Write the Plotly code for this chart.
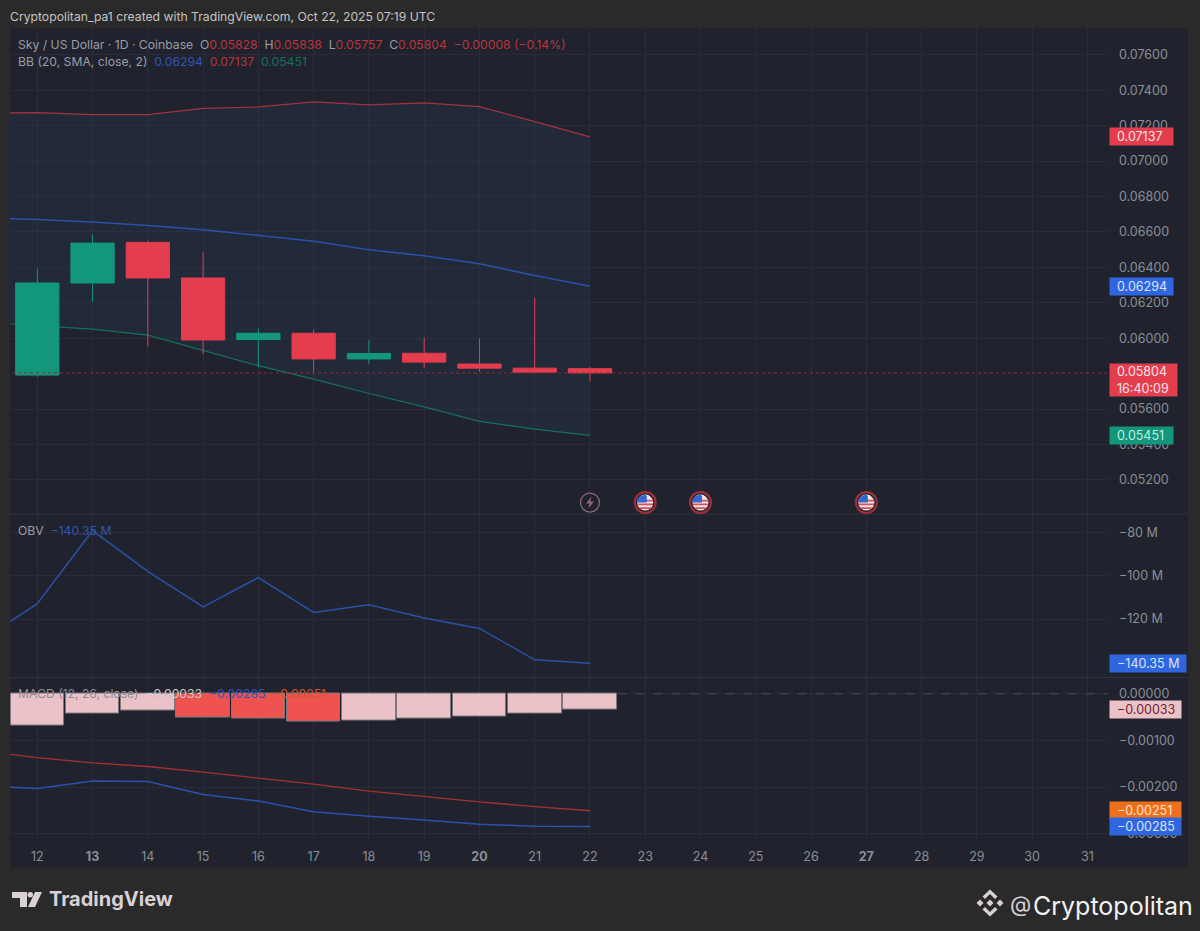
import math
import plotly.graph_objects as go

W, H = 1200, 931
PAGE = "#2a2a2a"
PANEL = "#20232d"
GRID = "#2a2d38"
TICK = "#8b8e96"
GREEN = "#13977c"
RED = "#e43d4e"
BLUE = "#2f66e0"
ORANGE = "#ee6f1a"
PINK = "#ecc2c9"
HIST_RED = "#ef5350"
FONT = "Inter, 'Liberation Sans', sans-serif"
ROW_SHIFT = 1

# Daily OHLC, October 2025
days = [12, 13, 14, 15, 16, 17, 18, 19, 20, 21, 22]
opens = [0.05792, 0.06312, 0.06541, 0.06340, 0.05993, 0.06028, 0.05883, 0.05915, 0.05854, 0.05831, 0.05828]
highs = [0.06393, 0.06586, 0.06552, 0.06486, 0.06055, 0.06049, 0.05989, 0.06004, 0.05998, 0.06229, 0.05838]
lows = [0.05782, 0.06205, 0.05951, 0.05910, 0.05835, 0.05805, 0.05852, 0.05833, 0.05810, 0.05801, 0.05757]
closes = [0.06312, 0.06537, 0.06340, 0.05990, 0.06028, 0.05883, 0.05914, 0.05865, 0.05831, 0.05808, 0.05804]
last_price = 0.05804

# Indicator lines start one session earlier, off the left edge of the view
line_days = [11, 12, 13, 14, 15, 16, 17, 18, 19, 20, 21, 22]
bb_upper = [0.07271, 0.07274, 0.07262, 0.07262, 0.07298, 0.07306, 0.07334, 0.07318, 0.07329, 0.07308, 0.07223, 0.07137]
bb_basis = [0.06679, 0.06670, 0.06656, 0.06637, 0.06613, 0.06580, 0.06548, 0.06499, 0.06465, 0.06420, 0.06354, 0.06294]
bb_lower = [0.06090, 0.06070, 0.06051, 0.06017, 0.05932, 0.05845, 0.05769, 0.05688, 0.05612, 0.05530, 0.05487, 0.05451]
obv = [-129.7, -112.9, -79.1, -98.0, -114.4, -100.8, -116.9, -113.4, -119.5, -124.3, -138.8, -140.35]
macd_signal = [-0.00123, -0.00137, -0.00148, -0.00156, -0.00168, -0.00181, -0.00194, -0.00209, -0.00221, -0.00232, -0.00242, -0.00251]
macd_line = [-0.00198, -0.00203, -0.00187, -0.00188, -0.00216, -0.00230, -0.00253, -0.00263, -0.00271, -0.00280, -0.00284, -0.00285]
histogram = [-0.00067, -0.00043, -0.00035, -0.00050, -0.00052, -0.00059, -0.00057, -0.00054, -0.00049, -0.00043, -0.00033]
hist_colors = [PINK, PINK, PINK, HIST_RED, HIST_RED, HIST_RED, PINK, PINK, PINK, PINK, PINK]

# Axis ticks
time_ticks = list(range(12, 32))
time_labels = [f"<b>{d}</b>" if d in (13, 20, 27) else str(d) for d in time_ticks]
price_ticks = [0.052, 0.054, 0.056, 0.060, 0.062, 0.064, 0.066, 0.068, 0.070, 0.072, 0.074, 0.076]
price_labels = [f"{t:.5f}" for t in price_ticks]
obv_ticks = [-120, -100, -80]
obv_labels = ["−120 M", "−100 M", "−80 M"]
macd_ticks = [-0.003, -0.002, -0.001, 0.0]
macd_labels = ["−0.00300", "−0.00200", "−0.00100", "0.00000"]

# Calendar events along the bottom of the price pane
event_level = 0.05072
earnings_days = [22]
flag_days = [23, 24, 27]


def px(x, y):
    return x / W, 1 - (y + ROW_SHIFT) / H


def dom(top, bottom):
    return [1 - (bottom + ROW_SHIFT) / H, 1 - (top + ROW_SHIFT) / H]


fig = go.Figure()

# Bollinger band fill and lines
fig.add_trace(go.Scatter(x=line_days, y=bb_upper, mode="lines", line=dict(color="#a6323f", width=1.2), xaxis="x", yaxis="y"))
fig.add_trace(go.Scatter(x=line_days, y=bb_lower, mode="lines", line=dict(color="#16705f", width=1.2),
                         fill="tonexty", fillcolor="rgba(38,58,88,0.28)", xaxis="x", yaxis="y"))
fig.add_trace(go.Scatter(x=line_days, y=bb_basis, mode="lines", line=dict(color="#2d50a8", width=1.5), xaxis="x", yaxis="y"))

# Candles sit on an overlaid price axis so they stay above the band fill
fig.add_trace(go.Candlestick(
    x=days, open=opens, high=highs, low=lows, close=closes, whiskerwidth=0,
    increasing=dict(line=dict(color=GREEN, width=1), fillcolor=GREEN),
    decreasing=dict(line=dict(color=RED, width=1), fillcolor=RED),
    xaxis="x", yaxis="y4"))

fig.add_trace(go.Scatter(x=[11, 32], y=[last_price, last_price], mode="lines",
                         line=dict(color="#86303f", width=1, dash="dot"), xaxis="x", yaxis="y4"))

# OBV pane
fig.add_trace(go.Scatter(x=line_days, y=obv, mode="lines", line=dict(color="#2b50a8", width=1.5), xaxis="x2", yaxis="y2"))

# MACD pane
fig.add_trace(go.Scatter(x=[22.5, 32], y=[0, 0], mode="lines", line=dict(color="#4a4d57", width=1, dash="dash"), xaxis="x3", yaxis="y3"))
fig.add_trace(go.Bar(x=days, y=histogram, width=0.97, marker=dict(color=hist_colors, line=dict(color="#7d7880", width=1)),
                     xaxis="x3", yaxis="y3"))
fig.add_trace(go.Scatter(x=line_days, y=macd_signal, mode="lines", line=dict(color="#a63030", width=1.3), xaxis="x3", yaxis="y3"))
fig.add_trace(go.Scatter(x=line_days, y=macd_line, mode="lines", line=dict(color="#2b50b0", width=1.5), xaxis="x3", yaxis="y3"))

shapes = []


def pixel_rect(x0, y0, x1, y1, color):
    a, b = px(x0, y0)
    c, d = px(x1, y1)
    shapes.append(dict(type="rect", xref="paper", yref="paper", x0=a, y0=b, x1=c, y1=d,
                       fillcolor=color, line=dict(width=0), layer="below"))


# Chart frame, price scale gutter and time scale strip
pixel_rect(10, 27, 1188, 868, PANEL)
for y in (514, 678):
    pixel_rect(10, y - 0.5, 1188, y + 0.5, "#30333d")


def paper_path(points, color):
    d = "M" + " L".join(f"{px(x, y)[0]:.5f},{px(x, y)[1]:.5f}" for x, y in points) + " Z"
    shapes.append(dict(type="path", xref="paper", yref="paper", path=d, fillcolor=color, line=dict(width=0)))


# TradingView mark
paper_path([(12, 893), (27, 893), (27, 908), (20, 908), (20, 899), (12, 899)], "#d8d2d6")
paper_path([(35, 893), (42, 893), (35, 908), (28, 908)], "#d8d2d6")
shapes.append(dict(type="circle", xref="paper", yref="paper",
                   x0=px(27.5, 0)[0], x1=px(33, 0)[0], y0=px(0, 898.5)[1], y1=px(0, 893)[1],
                   fillcolor="#d8d2d6", line=dict(width=0)))

# Binance mark
for cx, cy, r in [(980, 904, 3.5), (1000, 904, 3.5), (990, 904, 3.5)]:
    paper_path([(cx - r, cy), (cx, cy - r), (cx + r, cy), (cx, cy + r)], "#d9cfd4")
paper_path([(982.5, 897.5), (985, 900), (990, 895), (995, 900), (997.5, 897.5), (990, 890.5)], "#d9cfd4")
paper_path([(982.5, 910.5), (985, 908), (990, 913), (995, 908), (997.5, 910.5), (990, 917.5)], "#d9cfd4")


def event_circle(day, r, fill, line_color=None, line_width=0):
    shapes.append(dict(type="circle", xref="x", yref="y", xsizemode="pixel", ysizemode="pixel",
                       xanchor=day, yanchor=event_level, x0=-r, x1=r, y0=-r, y1=r,
                       fillcolor=fill, line=dict(color=line_color or fill, width=line_width)))


def event_path(day, points, fill):
    d = "M" + " L".join(f"{x:.2f},{y:.2f}" for x, y in points) + " Z"
    shapes.append(dict(type="path", xref="x", yref="y", xsizemode="pixel", ysizemode="pixel",
                       xanchor=day, yanchor=event_level, path=d, fillcolor=fill, line=dict(width=0)))


def disc_band(r, y0, y1, x_max=None):
    # Slice of a disc between two heights, used for the flag stripes
    pts_r, pts_l = [], []
    for i in range(7):
        y = y0 + (y1 - y0) * i / 6
        half = math.sqrt(max(r * r - y * y, 0))
        pts_r.append((half if x_max is None else min(half, x_max), y))
        pts_l.append((-half, y))
    return pts_r + pts_l[::-1]


for day in earnings_days:
    event_circle(day, 9.5, "#20232d", "#8a6878", 1.3)
    event_path(day, [(1.5, 6), (-4, -1), (-0.5, -1), (-1.5, -6), (4, 1), (0.5, 1)], "#8a6878")

for day in flag_days:
    event_circle(day, 10.5, "#20232d", "#9c2f3a", 2.2)
    event_circle(day, 8, "#ece6ea")
    for y0 in (-6.5, -2.8, 1):
        event_path(day, disc_band(8, y0, y0 + 1.9), "#d8505c")
    event_path(day, disc_band(8, 0, 8, x_max=1.5), "#3566cc")

annotations = []


def text_at(x, y, text, size=12, color="#9a9da5", anchor="left"):
    a, b = px(x, y)
    annotations.append(dict(xref="paper", yref="paper", x=a, y=b, text=text, showarrow=False, xanchor=anchor,
                            yanchor="middle", font=dict(family=FONT, size=size, color=color)))


def colored(text, color):
    return f'<span style="color:{color}">{text}</span>'


SP = "\u00a0\u00a0"
DRED = "#b8343f"
text_at(8, 15.5, "Cryptopolitan_pa1 created with TradingView.com, Oct 22, 2025 07:19 UTC", size=12.2, color="#c4c4c4")
text_at(16, 43.5, "Sky / US Dollar · 1D · Coinbase" + SP
        + "O" + colored("0.05828", DRED) + SP + "H" + colored("0.05838", DRED) + SP
        + "L" + colored("0.05757", DRED) + SP + "C" + colored("0.05804", DRED) + SP
        + colored("−0.00008 (−0.14%)", DRED), size=12.2)
text_at(16, 60.5, "BB (20, SMA, close, 2)" + SP + colored("0.06294", "#2f55b8") + SP
        + colored("0.07137", DRED) + SP + colored("0.05451", "#16705f"), size=12.2)
text_at(16, 531, "OBV" + SP + colored("−140.35 M", "#2f55b8"), size=12.2)
text_at(16, 694, "MACD (12, 26, close)" + SP + colored("−0.00033", "#c8c8cc") + SP
        + colored("−0.00285", "#2f55b8") + SP + colored("−0.00251", "#d0562a"), size=12.2, color="#8d8d93")

# Logo words and credit
text_at(47, 900, "<b>TradingView</b>", size=20, color="#d8d2d6")
text_at(1008, 905, "@", size=22, color="#d9cfd4")
text_at(1031, 906.5, "Cryptopolitan", size=25, color="#f2f2f2")


def value_box(value, yref, text, fill, width, color="#f3e6e8", height=17, yshift=0):
    pad = "\u00a0\u00a0"
    label = "<br>".join(pad + part for part in text.split("<br>"))
    annotations.append(dict(xref="paper", yref=yref, x=1109 / W, y=value, text=label, showarrow=False,
                            xanchor="left", yanchor="middle", align="left", bgcolor=fill, width=width, height=height,
                            yshift=yshift, borderpad=0, font=dict(family=FONT, size=12.5, color=color)))


value_box(bb_upper[-1], "y", "0.07137", RED, 63)
value_box(bb_basis[-1], "y", "0.06294", BLUE, 63, color="#d8e4ff")
value_box(last_price, "y", "0.05804<br>16:40:09", RED, 67, height=32, yshift=-7.5)
value_box(bb_lower[-1], "y", "0.05451", GREEN, 63, color="#bfeee0")
value_box(obv[-1], "y2", "−140.35 M", BLUE, 76, color="#d8e4ff")
value_box(histogram[-1], "y3", "−0.00033", PINK, 71, color="#6e2433")
value_box(macd_signal[-1], "y3", "−0.00251", ORANGE, 71, color="#ffe4d0")
value_box(macd_line[-1], "y3", "−0.00285", BLUE, 71, color="#d8e4ff")

x_common = dict(range=[11.506, 31.373], tickmode="array", tickvals=time_ticks, ticktext=time_labels,
                showgrid=True, gridcolor=GRID, gridwidth=1, zeroline=False, showline=False, ticks="",
                domain=[10 / W, 1108 / W], rangeslider=dict(visible=False),
                tickfont=dict(family=FONT, size=12.5, color=TICK))
y_common = dict(side="right", showgrid=True, gridcolor=GRID, gridwidth=1, zeroline=False, showline=False,
                ticks="", tickmode="array", ticklabelstandoff=10, tickfont=dict(family=FONT, size=12.5, color=TICK))
price_range = [0.05008, 0.07752]

fig.update_layout(
    width=W, height=H, margin=dict(l=0, r=0, t=0, b=0), autosize=False,
    paper_bgcolor=PAGE, plot_bgcolor="rgba(0,0,0,0)", showlegend=False, bargap=0,
    boxgap=0.1, boxgroupgap=0.13, hovermode=False,
    shapes=shapes, annotations=annotations,
    xaxis=dict(**x_common, anchor="y", showticklabels=False),
    xaxis2=dict(**x_common, anchor="y2", matches="x", showticklabels=False),
    xaxis3=dict(**x_common, anchor="y3", matches="x", showticklabels=True, ticklabelstandoff=8),
    yaxis=dict(**y_common, anchor="x", domain=dom(27, 514), range=price_range, tickvals=price_ticks, ticktext=price_labels),
    yaxis2=dict(**y_common, anchor="x2", domain=dom(514, 678), range=[-147.0, -71.4], tickvals=obv_ticks, ticktext=obv_labels),
    yaxis3=dict(**y_common, anchor="x3", domain=dom(678, 840), range=[-0.00312, 0.00035], tickvals=macd_ticks, ticktext=macd_labels),
    yaxis4=dict(overlaying="y", anchor="x", range=price_range, visible=False, showgrid=False),
)

fig.write_html("out.html", config=dict(displayModeBar=False))
